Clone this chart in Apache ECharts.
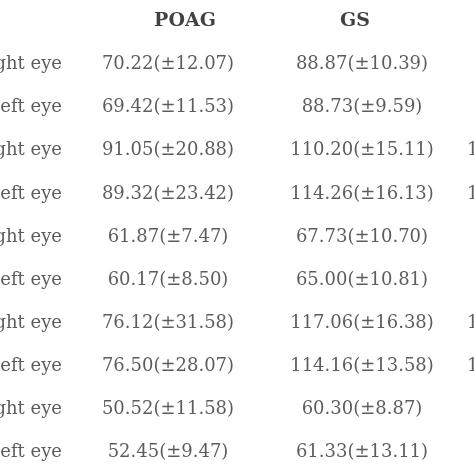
<!DOCTYPE html>
<html>
<head>
<meta charset="utf-8">
<script src="https://cdn.jsdelivr.net/npm/echarts@6/dist/echarts.min.js"></script>
<style>html,body{margin:0;padding:0;background:#fff}#main{width:474px;height:474px}</style>
</head>
<body>
<div id="main"></div>
<script>
// table content
var rowLabels = ['Right eye', 'Left eye', 'Right eye', 'Left eye', 'Right eye', 'Left eye', 'Right eye', 'Left eye', 'Right eye', 'Left eye'];
var poag = ['70.22(±12.07)', '69.42(±11.53)', '91.05(±20.88)', '89.32(±23.42)', '61.87(±7.47)', '60.17(±8.50)', '76.12(±31.58)', '76.50(±28.07)', '50.52(±11.58)', '52.45(±9.47)'];
var gs = ['88.87(±10.39)', '88.73(±9.59)', '110.20(±15.11)', '114.26(±16.13)', '67.73(±10.70)', '65.00(±10.81)', '117.06(±16.38)', '114.16(±13.58)', '60.30(±8.87)', '61.33(±13.11)'];
// only the first digit of the cut-off column is visible
var nextCol = ['', '', '1', '1', '', '', '1', '1', '', ''];

var rows = ['header'].concat(rowLabels.map((r, i) => 'r' + i));
var font = 'DejaVu Serif';
// column index scale: POAG = 1, GS = 2
var xMin = 1 - 168 / 194, xMax = xMin + 474 / 194;

function cells(col, texts) {
  return texts.map((t, i) => ({ value: [col, 'r' + i], text: t }));
}

function textSeries(data, style) {
  return {
    type: 'scatter',
    symbolSize: 0,
    silent: true,
    clip: false,
    data: data,
    label: Object.assign({
      show: true,
      position: 'inside',
      formatter: p => p.data.text,
      color: '#333',
      fontFamily: font,
      fontSize: 18
    }, style)
  };
}

var myChart = echarts.init(document.getElementById('main'));
myChart.setOption({
  backgroundColor: '#fff',
  animation: false,
  grid: { left: 0, right: 0, top: -4, bottom: -10 },
  xAxis: { type: 'value', min: xMin, max: xMax, show: false },
  yAxis: { type: 'category', data: rows, inverse: true, show: false },
  series: [
    textSeries(cells(xMin, rowLabels), { align: 'right', offset: [62, 0] }),
    textSeries(cells(1, poag), {}),
    textSeries(cells(2, gs), {}),
    textSeries(cells(xMax, nextCol), { align: 'left', offset: [-7, 0] }),
    textSeries([{ value: [1, 'header'], text: 'POAG' }], { fontWeight: 'bold', fontSize: 19, color: '#111', offset: [17, 0] }),
    textSeries([{ value: [2, 'header'], text: 'GS' }], { fontWeight: 'bold', fontSize: 19, color: '#111', offset: [-7, 0] })
  ]
});
</script>
</body>
</html>
